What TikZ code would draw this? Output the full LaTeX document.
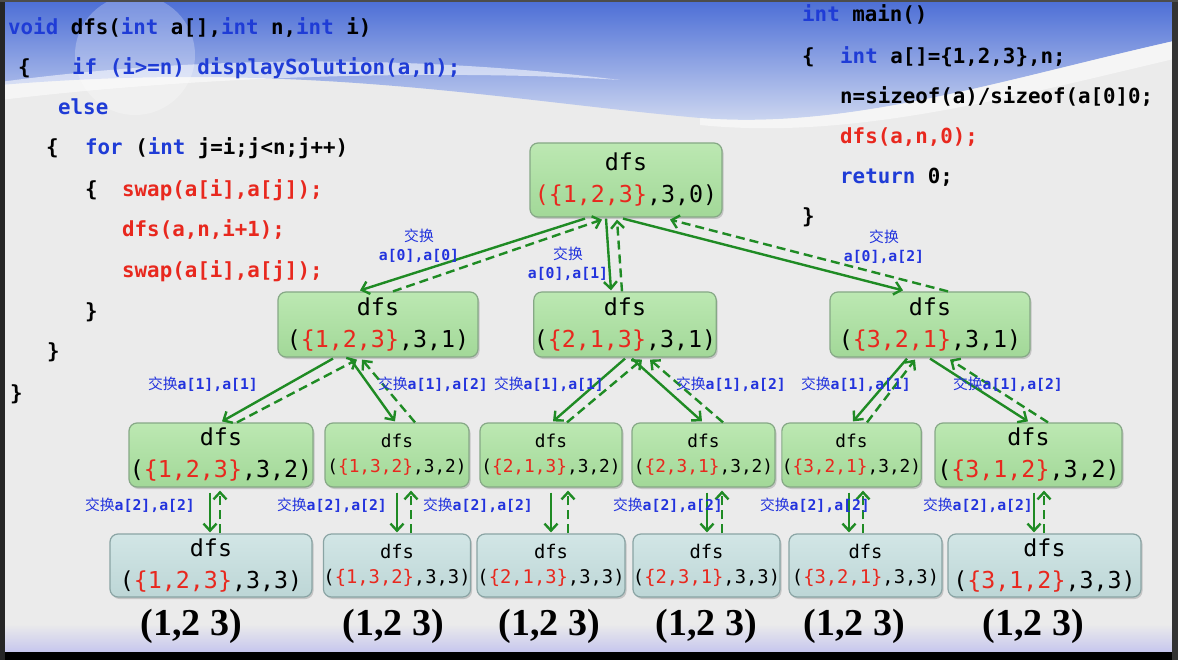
\documentclass[tikz,border=0pt]{standalone}
\usepackage{fontspec}
\setmonofont{DejaVu Sans Mono}
\newfontfamily\cjk{Noto Sans CJK SC}
\newfontfamily\tms{Liberation Serif}
\usetikzlibrary{arrows.meta,shadows,calc}
\definecolor{bg}{HTML}{EBEBEB}
\definecolor{kwblue}{HTML}{1F3CD6}
\definecolor{cred}{HTML}{E8281E}
\definecolor{agreen}{HTML}{1F8B24}
\definecolor{gtop}{HTML}{BCE8B2}
\definecolor{gbot}{HTML}{A2D898}
\definecolor{gdraw}{HTML}{86A886}
\definecolor{ttop}{HTML}{D2E6E6}
\definecolor{tbot}{HTML}{BDD6D6}
\definecolor{tdraw}{HTML}{8AA4A4}
\definecolor{lblue}{HTML}{2233DD}
\definecolor{skyA}{HTML}{4C6ED6}
\definecolor{skyB}{HTML}{D6DEF2}
\definecolor{lav}{HTML}{C6C6EE}
\begin{document}
\begin{tikzpicture}[x=1pt,y=-1pt,
  box/.style={rounded corners=8pt, line width=1.2pt, inner sep=0pt, align=center,
    drop shadow={opacity=0.35, shadow xshift=1.5pt, shadow yshift=-2pt}},
  gbox/.style={box, top color=gtop, bottom color=gbot, draw=gdraw},
  tbox/.style={box, top color=ttop, bottom color=tbot, draw=tdraw},
  bigf/.style={font=\ttfamily\fontsize{23.3}{32}\selectfont},
  gsf/.style={font=\ttfamily\fontsize{17.8}{25}\selectfont},
  tsf/.style={font=\ttfamily\fontsize{18.8}{25}\selectfont},
  code/.style={anchor=base west, inner sep=0pt, font=\ttfamily\bfseries\fontsize{20.8}{24}\selectfont},
  lbl/.style={inner sep=0pt, align=center, text=lblue, font=\ttfamily\bfseries\fontsize{14.8}{19}\selectfont},
  res/.style={inner sep=0pt, font=\tms\bfseries\fontsize{38}{40}\selectfont},
  sol/.style={draw=agreen, line width=2.4pt, -{Straight Barb[length=7pt,width=13pt]}},
  dsh/.style={sol, dash pattern=on 9pt off 5pt}]
\useasboundingbox (0,0) rectangle (1178,660);
% background
\fill[bg] (0,0) rectangle (1178,660);
\shade[top color=skyA, bottom color=skyB] (0,0) -- (1178,0) -- (1178,40)
  .. controls (1000,80) and (850,130) .. (700,118)
  .. controls (500,100) and (300,60) .. (0,85) -- cycle;
\fill[white, opacity=0.55] (0,82) .. controls (200,55) and (420,55) .. (620,80)
  .. controls (500,72) and (250,70) .. (0,100) -- cycle;
\fill[white, opacity=0.25] (135,55) circle (60);
\fill[white, opacity=0.5] (700,118) .. controls (850,130) and (1000,80) .. (1178,40)
  -- (1178,58) .. controls (1000,100) and (850,140) .. (700,125) -- cycle;
\shade[top color=bg, bottom color=lav] (0,624) rectangle (1178,652);
\fill[black] (0,652) rectangle (1178,660);
\fill[black!85] (0,0) rectangle (5,660);
\fill[black!80] (1172,0) rectangle (1178,660);
\fill[black!70] (0,0) rectangle (1178,2);
% left code
\node[code] (l1) at (8,35) {\textcolor{kwblue}{void} dfs(\textcolor{kwblue}{int} a[],\textcolor{kwblue}{int} n,\textcolor{kwblue}{int} i)};
\node[code] (l2a) at (18,75) {\{};
\node[code, text=kwblue] (l2b) at (72,75) {if (i>=n) displaySolution(a,n);};
\node[code, text=kwblue] (l3) at (58,115) {else};
\node[code] (l4a) at (46,155) {\{};
\node[code] (l4b) at (85,155) {\textcolor{kwblue}{for} (\textcolor{kwblue}{int} j=i;j<n;j++)};
\node[code] (l5a) at (85,197) {\{};
\node[code, text=cred] (l5b) at (122,197) {swap(a[i],a[j]);};
\node[code, text=cred] (l6) at (122,237) {dfs(a,n,i+1);};
\node[code, text=cred] (l7) at (122,278) {swap(a[i],a[j]);};
\node[code] (l8) at (85,319) {\}};
\node[code] (l9) at (47,359) {\}};
\node[code] (l10) at (10,400) {\}};
% right code
\node[code] (m1) at (802,22) {\textcolor{kwblue}{int} main()};
\node[code] (m2a) at (802,64) {\{};
\node[code] (m2b) at (840,64) {\textcolor{kwblue}{int} a[]=\{1,2,3\},n;};
\node[code] (m3) at (840,104) {n=sizeof(a)/sizeof(a[0]0;};
\node[code, text=cred] (m4) at (840,144) {dfs(a,n,0);};
\node[code] (m5) at (840,184) {\textcolor{kwblue}{return} 0;};
\node[code] (m6) at (802,224) {\}};
% tree nodes
\node[gbox, bigf, minimum width=192pt, minimum height=74pt] (r) at (626,180) {dfs\\\textcolor{cred}{(\{1,2,3\}},3,0)};
\node[gbox, bigf, minimum width=200pt, minimum height=65pt] (a1) at (378,324.5) {dfs\\(\textcolor{cred}{\{1,2,3\}},3,1)};
\node[gbox, bigf, minimum width=180pt, minimum height=65pt] (a2) at (625,324.5) {dfs\\(\textcolor{cred}{\{2,1,3\}},3,1)};
\node[gbox, bigf, minimum width=200pt, minimum height=65pt] (a3) at (930,324.5) {dfs\\(\textcolor{cred}{\{3,2,1\}},3,1)};
\node[gbox, bigf, minimum width=184pt, minimum height=64pt] (b1) at (221,455) {dfs\\(\textcolor{cred}{\{1,2,3\}},3,2)};
\node[gbox, gsf, minimum width=144pt, minimum height=64pt] (b2) at (397,455) {dfs\\(\textcolor{cred}{\{1,3,2\}},3,2)};
\node[gbox, gsf, minimum width=142pt, minimum height=64pt] (b3) at (551,455) {dfs\\(\textcolor{cred}{\{2,1,3\}},3,2)};
\node[gbox, gsf, minimum width=143pt, minimum height=64pt] (b4) at (703.5,455) {dfs\\(\textcolor{cred}{\{2,3,1\}},3,2)};
\node[gbox, gsf, minimum width=139pt, minimum height=64pt] (b5) at (851.5,455) {dfs\\(\textcolor{cred}{\{3,2,1\}},3,2)};
\node[gbox, bigf, minimum width=187pt, minimum height=64pt] (b6) at (1028.5,455) {dfs\\(\textcolor{cred}{\{3,1,2\}},3,2)};
\node[tbox, bigf, minimum width=202pt, minimum height=63pt] (c1) at (211,565.5) {dfs\\(\textcolor{cred}{\{1,2,3\}},3,3)};
\node[tbox, tsf, minimum width=146pt, minimum height=63pt] (c2) at (397,565.5) {dfs\\(\textcolor{cred}{\{1,3,2\}},3,3)};
\node[tbox, tsf, minimum width=148pt, minimum height=63pt] (c3) at (551,565.5) {dfs\\(\textcolor{cred}{\{2,1,3\}},3,3)};
\node[tbox, tsf, minimum width=147pt, minimum height=63pt] (c4) at (706.5,565.5) {dfs\\(\textcolor{cred}{\{2,3,1\}},3,3)};
\node[tbox, tsf, minimum width=153pt, minimum height=63pt] (c5) at (865.5,565.5) {dfs\\(\textcolor{cred}{\{3,2,1\}},3,3)};
\node[tbox, bigf, minimum width=193pt, minimum height=63pt] (c6) at (1044.5,565.5) {dfs\\(\textcolor{cred}{\{3,1,2\}},3,3)};
% root edges
\draw[sol] ($(r.south)+(-41,1)$) -- ($(a1.north)+(-18,-1)$);
\draw[dsh] ($(a1.north)+(15,0)$) -- ($(r.south)+(-24,2)$);
\draw[sol] ($(r.south)+(-20,1)$) -- ($(a2.north)+(-14,-1)$);
\draw[dsh] ($(a2.north)+(-3,0)$) -- ($(r.south)+(-9,2)$);
\draw[sol] ($(r.south)+(-3,1)$) -- ($(a3.north)+(-27,-1)$);
\draw[dsh] ($(a3.north)+(18,0)$) -- ($(r.south)+(44,2)$);
% level 1 edges
\draw[sol] ($(a1.south)+(-45,1)$) -- ($(b1.north)+(1,-1)$);
\draw[dsh] ($(b1.north)+(16,0)$) -- ($(a1.south)+(-21,2)$);
\draw[sol] ($(a1.south)+(-28,1)$) -- ($(b2.north)+(-2,-1)$);
\draw[dsh] ($(b2.north)+(18,0)$) -- ($(a1.south)+(-16,2)$);
\draw[sol] ($(a2.south)+(0,1)$) -- ($(b3.north)+(2,-1)$);
\draw[dsh] ($(b3.north)+(16,0)$) -- ($(a2.south)+(17,2)$);
\draw[sol] ($(a2.south)+(7,1)$) -- ($(b4.north)+(-1.5,-1)$);
\draw[dsh] ($(b4.north)+(19.5,0)$) -- ($(a2.south)+(25,2)$);
\draw[sol] ($(a3.south)+(-23,1)$) -- ($(b5.north)+(1.5,-1)$);
\draw[dsh] ($(b5.north)+(15.5,0)$) -- ($(a3.south)+(-15,2)$);
\draw[sol] ($(a3.south)+(0,1)$) -- ($(b6.north)+(-0.5,-1)$);
\draw[dsh] ($(b6.north)+(19.5,0)$) -- ($(a3.south)+(20,2)$);
% level 2 edges
\draw[sol] ($(b1.south)+(-11,5)$) -- ($(c1.north)+(-1,-1)$);
\draw[dsh] ($(c1.north)+(9,0)$) -- ($(b1.south)+(-1,3)$);
\draw[sol] ($(b2.south)+(0,5)$) -- ($(c2.north)+(0,-1)$);
\draw[dsh] ($(c2.north)+(14,0)$) -- ($(b2.south)+(14,3)$);
\draw[sol] ($(b3.south)+(0,5)$) -- ($(c3.north)+(0,-1)$);
\draw[dsh] ($(c3.north)+(17,0)$) -- ($(b3.south)+(17,3)$);
\draw[sol] ($(b4.south)+(3.5,5)$) -- ($(c4.north)+(0.5,-1)$);
\draw[dsh] ($(c4.north)+(15.5,0)$) -- ($(b4.south)+(18.5,3)$);
\draw[sol] ($(b5.south)+(-2.5,5)$) -- ($(c5.north)+(-16.5,-1)$);
\draw[dsh] ($(c5.north)+(-2.5,0)$) -- ($(b5.south)+(11.5,3)$);
\draw[sol] ($(b6.south)+(5.5,5)$) -- ($(c6.north)+(-10.5,-1)$);
\draw[dsh] ($(c6.north)+(-0.5,0)$) -- ($(b6.south)+(15.5,3)$);
% labels
\node[lbl] (e1) at (419,246) {{\cjk\mdseries 交换}\\a[0],a[0]};
\node[lbl] (e2) at (568,264) {{\cjk\mdseries 交换}\\a[0],a[1]};
\node[lbl] (e3) at (884,247) {{\cjk\mdseries 交换}\\a[0],a[2]};
\node[lbl] (f1) at (203,384) {{\cjk\mdseries 交换}a[1],a[1]};
\node[lbl] (f2) at (433,384) {{\cjk\mdseries 交换}a[1],a[2]};
\node[lbl] (f3) at (549,384) {{\cjk\mdseries 交换}a[1],a[1]};
\node[lbl] (f4) at (731,384) {{\cjk\mdseries 交换}a[1],a[2]};
\node[lbl] (f5) at (856,384) {{\cjk\mdseries 交换}a[1],a[1]};
\node[lbl] (f6) at (1008,384) {{\cjk\mdseries 交换}a[1],a[2]};
\node[lbl] (g1) at (140,505) {{\cjk\mdseries 交换}a[2],a[2]};
\node[lbl] (g2) at (332,505) {{\cjk\mdseries 交换}a[2],a[2]};
\node[lbl] (g3) at (478,505) {{\cjk\mdseries 交换}a[2],a[2]};
\node[lbl] (g4) at (668,505) {{\cjk\mdseries 交换}a[2],a[2]};
\node[lbl] (g5) at (815,505) {{\cjk\mdseries 交换}a[2],a[2]};
\node[lbl] (g6) at (978,505) {{\cjk\mdseries 交换}a[2],a[2]};
% results
\node[res] (h1) at (191,626) {(1,2 3)};
\node[res] (h2) at (393,626) {(1,2 3)};
\node[res] (h3) at (549,626) {(1,2 3)};
\node[res] (h4) at (706,626) {(1,2 3)};
\node[res] (h5) at (854,626) {(1,2 3)};
\node[res] (h6) at (1033,626) {(1,2 3)};
\end{tikzpicture}
\end{document}
